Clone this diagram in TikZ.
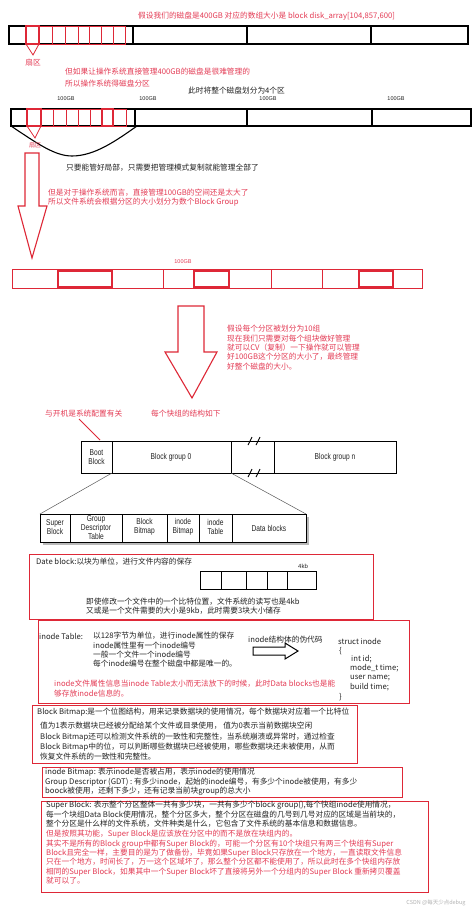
\documentclass[tikz,border=0pt]{standalone}
\usepackage{fontspec}
\setmainfont{Noto Sans CJK SC}
\newfontfamily\latf[FakeStretch=0.78]{Liberation Sans}
\newfontfamily\smallf{Liberation Sans}
\definecolor{rd}{RGB}{222,40,55}
\definecolor{rt}{RGB}{228,60,85}
\definecolor{tk}{RGB}{35,35,35}
\newcommand\myfs{\fontsize{7.7}{9.4}\selectfont}
\begin{document}
\begin{tikzpicture}[x=1pt,y=-1pt,
  rtx/.style={text=rt,font=\myfs,inner sep=0,anchor=west},
  btx/.style={text=tk,font=\myfs,inner sep=0,anchor=west},
  rpar/.style={text=rt,font=\myfs,inner sep=0,anchor=north west,align=left},
  bpar/.style={text=tk,font=\myfs,inner sep=0,anchor=north west,align=left},
  gb/.style={text=tk,font=\smallf\fontsize{5.5}{6}\selectfont,inner sep=0},
  blk/.style={draw=black,line width=1.1pt},
  rcell/.style={draw=rd,line width=0.7pt},
  rbox/.style={draw=rd,line width=1pt},
  bigarrow/.style={draw=rd,line width=1.1pt,fill=white,line join=miter},
  lbl/.style={font=\latf\fontsize{8.5}{9}\selectfont,align=center,inner sep=0,text=tk},
]
\fill[white] (0,0) rectangle (474,910);
\useasboundingbox (0,0) rectangle (474,910);

% ---------- section 1: disk as array ----------
\node[rtx] (t1) at (138,16) {假设我们的磁盘是400GB 对应的数组大小是 block disk\_array[104,857,600]};
\draw[blk] (9,26) rectangle (468,44);
\draw[blk] (133,26) -- (133,44) (247,26) -- (247,44) (371,26) -- (371,44);
\draw[rcell] (26,26) rectangle (125,44);
\foreach \x in {39,52,65,78,89,101,113} \draw[rcell] (\x,26) -- (\x,44);
\draw[rd,line width=1.1pt] (26,26) rectangle (39,44);
\draw[rd,line width=0.8pt] (26,44) -- (33,55) -- (39,44);
\node[rtx,anchor=center] (s1) at (33,63) {扇区};

\node[rtx] (t2) at (65,72) {但如果让操作系统直接管理400GB的磁盘是很难管理的};
\node[rtx] (t3) at (65,84) {所以操作系统得磁盘分区};
\node[btx] (t4) at (188,91) {此时将整个磁盘划分为4个区};

% ---------- section 2: partitions ----------
\node[gb] (g1) at (66,99) {100GB};
\node[gb] (g2) at (148,99) {100GB};
\node[gb] (g3) at (268,99) {100GB};
\node[gb] (g4) at (396,99) {100GB};
\draw[blk] (11,109) rectangle (471,126);
\draw[blk] (135,109) -- (135,126) (247,109) -- (247,126) (372,109) -- (372,126);
\draw[rcell] (27,109) rectangle (126,126);
\foreach \x in {41,53,66,78,90,102,113} \draw[rcell] (\x,109) -- (\x,126);
\draw[rd,line width=1.1pt] (27,109) rectangle (41,126);
\draw[rd,line width=1.1pt] (102,109) rectangle (113,126);
\draw[line width=1.1pt] (11,126) .. controls (38,144) and (55,156) .. (72,156) .. controls (95,156) and (117,140) .. (137,126);
\draw[rd,line width=0.8pt] (27,126) -- (35,138) -- (41,126);
\node[rtx,anchor=center,font=\fontsize{6}{7}\selectfont] (s2) at (35,145) {扇区};

\draw[bigarrow] (25,153) -- (39,153) -- (39,206) -- (47,206) -- (32,258) -- (18,206) -- (25,206) -- cycle;

\node[btx] (t5) at (66,168) {只要能管好局部，只需要把管理模式复制就能管理全部了};
\node[rtx] (t6) at (48,193) {但是对于操作系统而言，直接管理100GB的空间还是太大了};
\node[rtx] (t7) at (48,202) {所以文件系统会根据分区的大小划分为数个Block Group};

% ---------- section 3: block groups ----------
\node[gb,text=rt] (g5) at (183,262) {100GB};
\draw[rcell,line width=0.9pt] (12,269) rectangle (422,288);
\foreach \x in {57,112,163,194,229,271,322,359,393} \draw[rcell,line width=0.9pt] (\x,269) -- (\x,288);
\draw[rd,line width=1.2pt] (58,271) rectangle (112,287);
\draw[rd,line width=1.2pt] (194,271) rectangle (229,287);
\draw[rd,line width=1.2pt] (359,271) rectangle (393,287);

\draw[bigarrow] (178,306) -- (204,306) -- (204,352) -- (217,352) -- (192,398) -- (165,352) -- (178,352) -- cycle;
\node[rpar] (t8) at (227,325) {假设每个分区被划分为10组\\现在我们只需要对每个组块做好管理\\就可以CV（复制）一下操作就可以管理\\好100GB这个分区的大小了，最终管理\\好整个磁盘的大小。};

% ---------- section 4: ext2 layout ----------
\node[rtx] (t9) at (45,414) {与开机是系统配置有关};
\node[rtx] (t10) at (151,414) {每个快组的结构如下};
\draw[rd,line width=0.9pt] (79,419) -- (100,440);

\draw[line width=0.9pt] (81,441) rectangle (396,473);
\draw[line width=0.9pt] (112,441) -- (112,473) (231,441) -- (231,473) (274,441) -- (274,473);
\draw[line width=0.9pt] (248,445) -- (252,437) (256,445) -- (260,437);
\draw[line width=0.9pt] (248,477) -- (252,469) (256,477) -- (260,469);
\node[lbl] (boot) at (96.5,457) {Boot\\Block};
\node[lbl] (bg0) at (171,457) {Block group 0};
\node[lbl] (bgn) at (335,457) {Block group n};

\draw[gray!70!black,line width=0.5pt] (112,473) -- (40,514);
\draw[gray!70!black,line width=0.5pt] (231,473) -- (306,514);
\fill[gray!55] (43,517) rectangle (309,545);
\draw[fill=white,line width=0.7pt] (40,514) rectangle (306,542);
\draw[line width=0.7pt] (70,514) -- (70,542) (122,514) -- (122,542) (167,514) -- (167,542) (199,514) -- (199,542) (232,514) -- (232,542);
\node[lbl] (sb) at (55,527) {Super\\Block};
\node[lbl] (gdt) at (96,528) {Group\\Descriptor\\Table};
\node[lbl] (bbm) at (144.5,527) {Block\\Bitmap};
\node[lbl] (ibm) at (183,527) {inode\\Bitmap};
\node[lbl] (itb) at (215.5,527) {inode\\Table};
\node[lbl] (dbl) at (269,528) {Data blocks};

% ---------- section 5: explanations ----------
\draw[rbox] (29,554) rectangle (373,619);
\node[btx] (d1) at (36,562) {Date block:以块为单位，进行文件内容的保存};
\draw[line width=0.9pt] (200,571) rectangle (316,589);
\draw[line width=0.9pt] (221,571) -- (221,589) (246,571) -- (246,589) (267,571) -- (267,589) (287,571) -- (287,589);
\node[gb,font=\smallf\fontsize{6}{7}\selectfont] (kb) at (303,566) {4kb};
\node[btx] (d2) at (86,602) {即使修改一个文件中的一个比特位置，文件系统的读写也是4kb};
\node[btx] (d3) at (86,611) {又或是一个文件需要的大小是9kb，此时需要3块大小储存};

\draw[rbox] (38,620) rectangle (409,703);
\node[btx] (i0) at (39,636) {inode Table:};
\node[bpar] (i1) at (93,632) {以128字节为单位，进行inode属性的保存\\inode属性里有一个inode编号\\一般一个文件一个inode编号\\每个inode编号在整个磁盘中都是唯一的。};
\node[btx] (i2) at (248,640) {inode结构体的伪代码};
\draw[line width=1pt,line join=miter] (253,647) -- (285,647) -- (285,643) -- (298,651) -- (285,659) -- (285,655) -- (253,655) -- cycle;
\node[btx] (c1) at (338,641) {struct inode};
\node[btx] (c2) at (339,651) {\{};
\node[btx] (c3) at (351,659) {int id;};
\node[btx] (c4) at (350,668) {mode\_t time;};
\node[btx] (c5) at (350,678) {user name;};
\node[btx] (c6) at (350,687) {build time;};
\node[btx] (c7) at (339,697) {\}};
\node[rpar] (i3) at (54,680) {inode文件属性信息当inode Table太小而无法放下的时候，此时Data blocks也是能\\够存放inode信息的。};

\draw[rbox] (32,705) rectangle (357,763);
\node[btx] (b1) at (37,712) {Block Bitmap:是一个位图结构，用来记录数据块的使用情况，每个数据块对应着一个比特位};
\node[bpar,font={\fontsize{7.7}{10.4}\selectfont}] (b2) at (40,722) {值为1表示数据块已经被分配给某个文件或目录使用， 值为0表示当前数据块空闲\\Block Bitmap还可以检测文件系统的一致性和完整性，当系统崩溃或异常时，通过检查\\Block Bitmap中的位，可以判断哪些数据块已经被使用，哪些数据块还未被使用，从而\\恢复文件系统的一致性和完整性。};

\draw[rbox] (42,767) rectangle (402,797);
\node[bpar] (n1) at (45,768) {inode Bitmap: 表示inode是否被占用，表示inode的使用情况\\Group Descriptor (GDT) : 有多少inode，起始的inode编号，有多少个inode被使用，有多少\\boock被使用，还剩下多少，还有记录当前块group的总大小};

\draw[rbox] (41,801) rectangle (428,892);
\node[bpar] (p1) at (46,801) {Super Block: 表示整个分区整体一共有多少块，一共有多少个block group(),每个快组inode使用情况，\\每一个块组Data Block使用情况，整个分区多大，整个分区在磁盘的几号到几号对应的区域是当前块的，\\整个分区是什么样的文件系统，文件种类是什么，它包含了文件系统的基本信息和数据信息。};
\node[rpar] (p2) at (46,830) {但是按照其功能，Super Block是应该放在分区中的而不是放在块组内的。\\其实不是所有的Block group中都有Super Block的，可能一个分区有10个块组只有两三个快组有Super\\Block且完全一样，主要目的是为了做备份，毕竟如果Super Block只存放在一个地方，一直读取文件信息\\只在一个地方，时间长了，万一这个区域坏了，那么整个分区都不能使用了，所以此时在多个快组内存放\\相同的Super Block，如果其中一个Super Block坏了直接将另外一个分组内的Super Block 重新拷贝覆盖\\就可以了。};

\node[text=gray!60,font=\fontsize{5.5}{6}\selectfont,inner sep=0] (wm) at (436,903) {CSDN @每天少点debug};
\end{tikzpicture}
\end{document}
